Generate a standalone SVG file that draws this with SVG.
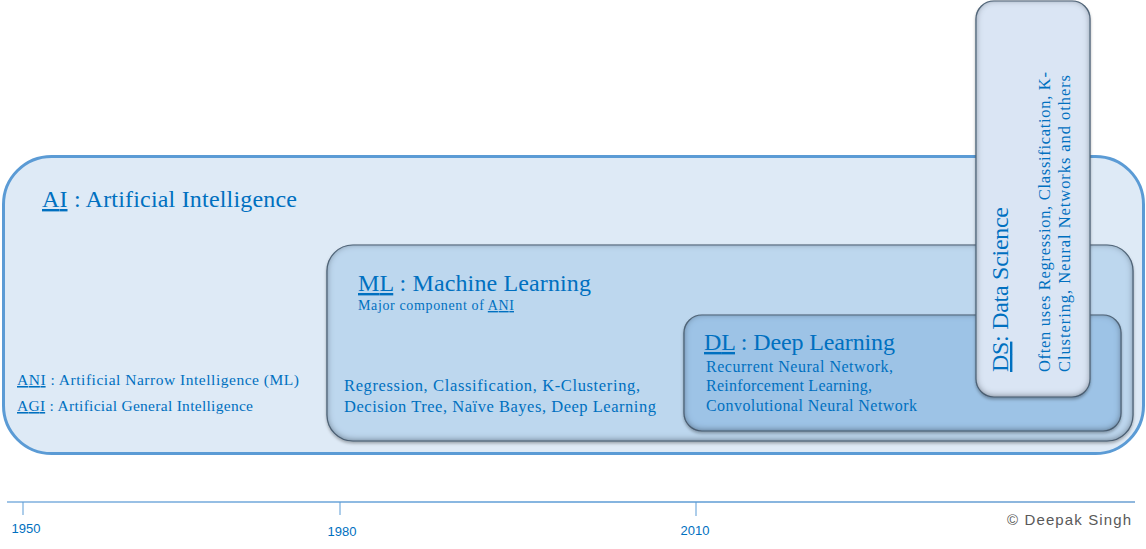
<svg xmlns="http://www.w3.org/2000/svg" width="1146" height="549" viewBox="0 0 1146 549">
<style>
.t{font-family:"Liberation Serif","DejaVu Serif",serif;fill:#0070c0}
.big{font-size:24px}
.mid{font-size:16.5px}
.sm{font-size:14px}
.u{text-decoration:underline}
.yr{font-family:"Liberation Sans",Arial,sans-serif;font-size:13px;fill:#0070c0;text-anchor:middle}
.tick{stroke:#5b9bd5;stroke-width:1}
.inner{stroke:#5f7488;stroke-width:1.2}
</style>
<defs>
<filter id="bevel" x="-5%" y="-5%" width="110%" height="112%">
<feFlood flood-color="#34475a" flood-opacity="1"/>
<feComposite in2="SourceAlpha" operator="out"/>
<feGaussianBlur stdDeviation="3.5"/>
<feOffset dx="0" dy="-1.5"/>
<feComposite in2="SourceAlpha" operator="in" result="sh"/>
<feGaussianBlur in="SourceAlpha" stdDeviation="1.5" result="ob"/>
<feOffset in="ob" dx="0" dy="2" result="ob2"/>
<feFlood flood-color="#000" flood-opacity="0.3"/>
<feComposite in2="ob2" operator="in" result="drop"/>
<feMerge><feMergeNode in="drop"/><feMergeNode in="SourceGraphic"/><feMergeNode in="sh"/></feMerge>
</filter>
<linearGradient id="tl" gradientUnits="userSpaceOnUse" x1="7" y1="0" x2="1135" y2="0">
<stop offset="0" stop-color="#7fb0de"/>
<stop offset="0.5" stop-color="#5b9bd5"/>
<stop offset="1" stop-color="#6a9fd2"/>
</linearGradient>
</defs>

<g id="ai">
<rect x="3.5" y="156.5" width="1140" height="297" rx="48" fill="#deeaf6" stroke="#5b9bd5" stroke-width="3"/>
<text class="t big" x="42" y="207" textLength="255" lengthAdjust="spacing"><tspan class="u">AI</tspan> : Artificial  Intelligence</text>
<text class="t" x="17" y="385" style="font-size:15.5px" textLength="282" lengthAdjust="spacing"><tspan class="u">ANI</tspan> : Artificial Narrow Intelligence (ML)</text>
<text class="t" x="17" y="411" style="font-size:15.5px" textLength="236" lengthAdjust="spacing"><tspan class="u">AGI</tspan> : Artificial General Intelligence</text>
</g>

<g id="ml">
<rect x="327" y="245" width="806" height="196" rx="26" fill="#bdd7ee" class="inner" filter="url(#bevel)"/>
<text class="t big" x="358" y="291" textLength="233" lengthAdjust="spacing"><tspan class="u">ML</tspan> : Machine  Learning</text>
<text class="t sm" x="358" y="310" textLength="156" lengthAdjust="spacing">Major component of <tspan class="u">ANI</tspan></text>
<text class="t mid" x="344" y="391" textLength="296" lengthAdjust="spacing">Regression, Classification, K-Clustering,</text>
<text class="t mid" x="344" y="412" textLength="312" lengthAdjust="spacing">Decision Tree, Naïve Bayes, Deep Learning</text>
</g>

<g id="dl">
<rect x="684" y="315" width="437" height="116" rx="18" fill="#9dc3e6" class="inner" filter="url(#bevel)"/>
<text class="t big" x="704" y="350" textLength="191" lengthAdjust="spacing"><tspan class="u">DL</tspan> : Deep Learning</text>
<text class="t" x="706" y="372" style="font-size:16px" textLength="187" lengthAdjust="spacing">Recurrent Neural Network,</text>
<text class="t" x="706" y="391" style="font-size:16px" textLength="166" lengthAdjust="spacing">Reinforcement Learning,</text>
<text class="t" x="706" y="411" style="font-size:16px" textLength="211" lengthAdjust="spacing">Convolutional Neural Network</text>
</g>

<g id="ds">
<rect x="976" y="1" width="114" height="396" rx="18" fill="#dae5f4" class="inner" filter="url(#bevel)"/>
<text class="t big" transform="translate(1008,372) rotate(-90)" x="0" y="0" textLength="165" lengthAdjust="spacing"><tspan class="u">DS</tspan>: Data Science</text>
<text class="t mid" transform="translate(1050,372) rotate(-90)" x="0" y="0" textLength="300" lengthAdjust="spacing">Often uses Regression, Classification, K-</text>
<text class="t mid" transform="translate(1070,372) rotate(-90)" x="0" y="0" textLength="297" lengthAdjust="spacing">Clustering, Neural Networks and others</text>
</g>

<g id="timeline">
<line x1="7" y1="502" x2="1135" y2="502" stroke="url(#tl)" stroke-width="1.5"/>
<line class="tick" x1="23" y1="502" x2="23" y2="515"/>
<line class="tick" x1="340" y1="502" x2="340" y2="515"/>
<line class="tick" x1="696" y1="502" x2="696" y2="516"/>
<text class="yr" x="26" y="533">1950</text>
<text class="yr" x="342" y="536">1980</text>
<text class="yr" x="695" y="535">2010</text>
<text x="1007" y="525" style="font-family:'Liberation Sans',Arial,sans-serif;font-size:15px;fill:#595959" textLength="124" lengthAdjust="spacing">© Deepak Singh</text>
</g>
</svg>
